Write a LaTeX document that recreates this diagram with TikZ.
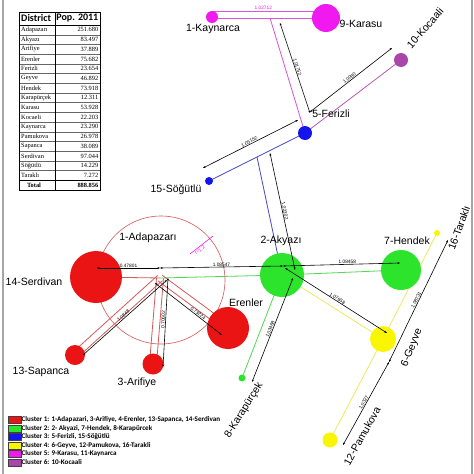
\documentclass[tikz,border=0pt]{standalone}
\usepackage{fontspec}
\setmainfont{Liberation Sans}
\newfontfamily\tabfont{Liberation Serif}
\newfontfamily\calfont{Carlito}
\usetikzlibrary{arrows.meta,calc}
\pgfdeclarelayer{bg}
\pgfdeclarelayer{paper}
\pgfsetlayers{paper,bg,main}
\definecolor{cred}{RGB}{235,20,20}
\definecolor{cgreen}{RGB}{45,228,45}
\definecolor{cblue}{RGB}{20,20,235}
\definecolor{cyellow}{RGB}{250,245,0}
\definecolor{cmag}{RGB}{240,25,240}
\definecolor{cpur}{RGB}{170,70,170}
\definecolor{lred}{RGB}{210,90,90}
\definecolor{lgreen}{RGB}{85,215,85}
\definecolor{lyellow}{RGB}{235,235,95}
\definecolor{lmag}{RGB}{215,85,215}
\definecolor{lblue}{RGB}{70,70,205}
\definecolor{lpur}{RGB}{180,90,180}
\begin{document}
\begin{tikzpicture}[x=1pt,y=-1pt,
  bubble/.style={circle, inner sep=0pt, minimum size=#1pt, draw=none},
  nm/.style={font=\fontsize{10.5}{12}\selectfont, inner sep=0pt},
  dim/.style={black, line width=0.6pt, {Stealth[length=2.6pt,width=2pt]}-{Stealth[length=2.6pt,width=2pt]}},
  lbl/.style={font=\fontsize{4.8}{5}\selectfont, inner sep=0.5pt, sloped, above},
  cline/.style={line width=0.8pt},
  tabtxt/.style={font=\tabfont\fontsize{6.4}{7}\selectfont, inner sep=0pt},
  tabhead/.style={font=\calfont\bfseries\fontsize{10}{11}\selectfont, inner sep=0pt},
  legbox/.style={draw=black!75, line width=0.4pt, minimum width=13pt, minimum height=7pt, inner sep=0pt},
  legtxt/.style={font=\calfont\bfseries\fontsize{7.1}{8}\selectfont, inner sep=0pt, anchor=west}
]
\useasboundingbox (0,0) rectangle (474,474);
\begin{pgfonlayer}{paper}
\fill[white] (0,0) rectangle (474,474);
\end{pgfonlayer}
% frame
\draw[gray!70, line width=2pt] (2.5,0) -- (2.5,474);
\draw[gray!70, line width=2pt] (471.5,0) -- (471.5,474);

% ---------- table ----------
\node[tabhead, anchor=west] (th1) at (21,18.5) {District};
\node[tabhead, anchor=east] (th2) at (98.5,18.5) {Pop. 2011};
\foreach \n/\v [count=\i] in {Adapazarı/251.680,Akyazı/83.497,Arifiye/37.889,Erenler/75.682,Ferizli/23.654,Geyve/46.892,Hendek/73.918,Karapürçek/12.311,Karasu/53.928,Kocaeli/22.203,Kaynarca/23.290,Pamukova/26.978,Sapanca/38.089,Serdivan/97.044,Söğütlü/14.229,Taraklı/7.272}{
  \node[tabtxt, anchor=west] (tn\i) at (21,{25+(\i-0.5)*9.7}) {\n};
  \node[tabtxt, anchor=east] (tv\i) at (98.5,{25+(\i-0.5)*9.7}) {\v};
  \draw[black!60, line width=0.35pt] (19,{25+\i*9.7}) -- (100,{25+\i*9.7});
}
\node[tabtxt, font=\tabfont\bfseries\fontsize{6.4}{7}\selectfont] (tnt) at (34,{25+16.5*9.7}) {Total};
\node[tabtxt, anchor=east, font=\tabfont\bfseries\fontsize{6.4}{7}\selectfont] (tvt) at (98.5,{25+16.5*9.7}) {888.856};
\draw[black, line width=0.9pt] (19,25) -- (100,25);
\draw[black, line width=0.7pt] (19,{25+16*9.7}) -- (100,{25+16*9.7});
\draw[black, line width=0.6pt] (55,12) -- (55,190);
\draw[black, line width=0.9pt] (19,12) rectangle (100,190);

% ---------- bubbles ----------
\node[bubble=12, fill=cmag] (kay) at (212,17) {};
\node[bubble=28, fill=cmag] (kar) at (326,18) {};
\node[bubble=14, fill=cpur] (koc) at (401,60) {};
\node[bubble=14, fill=cblue] (fer) at (305,133) {};
\node[bubble=8, fill=cblue] (sog) at (209,181) {};
\node[bubble=128, draw=lred, line width=0.6pt] (ada) at (161,280) {};
\coordinate (adc) at (160,278);
\node[bubble=52, fill=cred] (ser) at (96,277) {};
\node[bubble=42, fill=cred] (ere) at (228,328) {};
\node[bubble=20, fill=cred] (sap) at (75,355) {};
\node[bubble=21, fill=cred] (ari) at (153,364) {};
\node[bubble=44, fill=cgreen] (aky) at (282,275) {};
\node[bubble=40, fill=cgreen] (hen) at (401,270) {};
\node[bubble=7, fill=cgreen] (kpr) at (242,378) {};
\node[bubble=26, fill=cyellow] (gey) at (383,339) {};
\node[bubble=15, fill=cyellow] (pam) at (330,440) {};
\node[bubble=6, fill=cyellow] (tar) at (437,233) {};

% ---------- coloured links (under bubbles) ----------
\begin{pgfonlayer}{bg}
\draw[cline, lmag] (kay |- 0,11) -- node[pos=0.45, above=0.3pt, font=\fontsize{4.8}{5}\selectfont, inner sep=0.5pt, text=cmag] (l1) {1.02712} (kar |- 0,11);
\draw[cline, lmag] (kay |- 0,18) -- (kar |- 0,18);
\coordinate (mj) at (270,18);
\draw[cline, lmag] (mj) -- (fer.center);
\draw[cline, lpur] (koc.center) -- (fer.center);
\draw[cline, lblue] (sog.center) -- (fer.center);
\coordinate (bj) at ($(sog.center)!0.5!(fer.center)$);
\draw[cline, lblue] (bj) -- (aky.center);
\draw[cline, lgreen] (adc) -- (aky.center) -- (hen.center);
\draw[cline, lgreen] (aky.center) -- (kpr.center);
\draw[cline, lred] (ser.center) -- (adc);
\foreach \t in {sap,ari,ere}{
  \draw[cline, lred] ($(adc)!3.5pt!90:(\t.center)$) -- ($(\t.center)!3.5pt!-90:(adc)$);
  \draw[cline, lred] ($(adc)!3.5pt!-90:(\t.center)$) -- ($(\t.center)!3.5pt!90:(adc)$);
}
\draw[cline, lyellow] (aky.center) -- (gey.center);
\draw[cline, lyellow] (tar.center) -- (gey.center) -- (pam.center);
\end{pgfonlayer}

% radius marker
\coordinate (ra) at (190,254);
\coordinate (rb) at (213,236);
\draw[cmag, line width=0.6pt] (ra) -- node[pos=0.35, sloped, below=0.5pt, font=\fontsize{5}{5}\selectfont, inner sep=0.3pt, text=cmag] (rl) {r=1.2} (rb);

% ---------- black dimension arrows ----------
\coordinate (d1a) at (280,23);  \coordinate (d1b) at (310,113);
\coordinate (d2a) at (392,48);  \coordinate (d2b) at (310,112);
\coordinate (d3a) at (203,168); \coordinate (d3b) at (298,120);
\coordinate (d4a) at (270,153); \coordinate (d4b) at (295,270);
\coordinate (d5a) at (97,268);  \coordinate (d5b) at (160,268);
\coordinate (d6b) at (283,266); \coordinate (d7b) at (400,263);
\coordinate (d8a) at (167,280); \coordinate (d8b) at (83,355);
\coordinate (d9a) at (168,278); \coordinate (d9b) at (163,367);
\coordinate (d10a) at (155,283); \coordinate (d10b) at (222,335);
\coordinate (d11a) at (293,278); \coordinate (d11b) at (252,382);
\coordinate (d12a) at (285,268); \coordinate (d12b) at (387,333);
\coordinate (d13a) at (448,240); \coordinate (d13b) at (389,362);
\coordinate (d14b) at (343,445);
\draw[dim] (d1a) -- node[lbl] (e1) {1.01752} (d1b);
\draw[dim] (d2a) -- node[lbl] (e2) {1.0080} (d2b);
\draw[dim] (d3a) -- node[lbl] (e3) {1.05152} (d3b);
\draw[dim] (d4a) -- node[lbl, pos=0.5] (e4) {1.02302} (d4b);
\draw[dim] (d5a) -- node[lbl] (e5) {0.47801} (d5b);
\draw[dim] (d5b) -- node[lbl] (e6) {1.08547} (d6b);
\draw[dim] (d6b) -- node[lbl, pos=0.55] (e7) {1.08458} (d7b);
\draw[dim] (d8a) -- node[lbl] (e8) {1.0848} (d8b);
\draw[dim] (d9a) -- node[lbl, pos=0.47] (e9) {0.70602} (d9b);
\draw[dim] (d10a) -- node[lbl, pos=0.62] (e10) {0.73224} (d10b);
\draw[dim] (d11a) -- node[lbl] (e11) {1.03468} (d11b);
\draw[dim] (d12a) -- node[lbl] (e12) {1.07658} (d12b);
\draw[dim] (d13a) -- node[lbl] (e13) {1.08731} (d13b);
\draw[dim] (d13b) -- node[lbl] (e14) {1.0327} (d14b);

% ---------- names ----------
\node[nm] (nkay) at (213,29) {1-Kaynarca};
\node[nm] (nkar) at (361,24) {9-Karasu};
\node[nm, rotate=49] (nkoc) at (425,28) {10-Kocaali};
\node[nm] (nfer) at (331,114) {5-Ferizli};
\node[nm] (nsog) at (176,190) {15-Söğütlü};
\node[nm] (nada) at (148,238) {1-Adapazarı};
\node[nm] (nser) at (34,282) {14-Serdivan};
\node[nm] (nere) at (246,303) {Erenler};
\node[nm] (nsap) at (41,372) {13-Sapanca};
\node[nm] (nari) at (137,383) {3-Arifiye};
\node[nm] (naky) at (281,241) {2-Akyazı};
\node[nm] (nhen) at (407,241) {7-Hendek};
\node[nm, rotate=70] (ntar) at (459,228) {16-Taraklı};
\node[nm, rotate=68] (ngey) at (412,348) {6-Geyve};
\node[nm, rotate=61] (npam) at (362,436) {12-Pamukova};
\node[nm, rotate=58] (nkpr) at (244,410) {8-Karapürçek};

% ---------- legend ----------
\foreach \c/\t [count=\i] in {cred/{Cluster 1: 1-Adapazari, 3-Arifiye, 4-Erenler, 13-Sapanca, 14-Serdivan},
  cgreen/{Cluster 2: 2- Akyazi, 7-Hendek, 8-Karapürcek},
  cblue/{Cluster 3: 5-Ferizli, 15-Söğütlü},
  cyellow/{Cluster 4: 6-Geyve, 12-Pamukova, 16-Tarakli},
  cmag/{Cluster 5: 9-Karasu, 11-Kaynarca},
  cpur/{Cluster 6: 10-Kocaali}}{
  \node[legbox, fill=\c] (lb\i) at (14.5,{420+(\i-1)*8.5}) {};
  \node[legtxt] (lt\i) at (21.5,{420+(\i-1)*8.5}) {\t};
}
\end{tikzpicture}
\end{document}
